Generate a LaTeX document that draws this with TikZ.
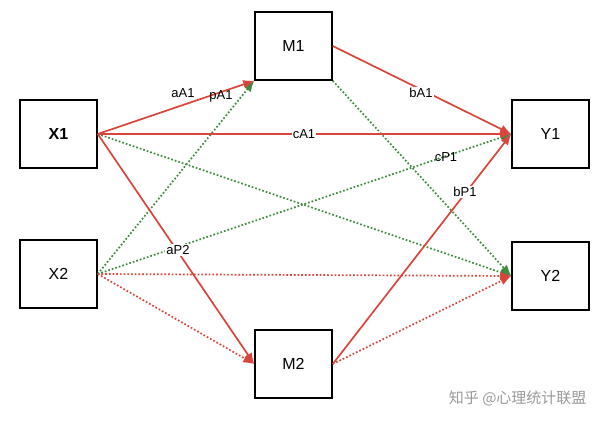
\documentclass[tikz,border=0pt]{standalone}
\usepackage{fontspec}
\setmainfont{Liberation Sans}
\newfontfamily\cjk{Noto Sans CJK SC}
\usetikzlibrary{arrows.meta}
\definecolor{rd}{HTML}{D9453A}
\definecolor{gr}{HTML}{3E8A3E}
\begin{document}
\begin{tikzpicture}[x=1pt,y=-1pt,
 box/.style={draw,line width=1.5pt,minimum width=77pt,minimum height=68pt,inner sep=0pt,font=\fontsize{16}{18}\selectfont},
 rs/.style={draw=rd,line width=1.7pt,-{Latex[length=11pt,width=9pt]}},
 rdot/.style={draw=rd,line width=1.7pt,dotted,-{Latex[length=11pt,width=9pt]}},
 gdot/.style={draw=gr,line width=1.7pt,dotted,-{Latex[length=11pt,width=9pt]}},
 lab/.style={fill=white,inner sep=1pt,font=\fontsize{13}{15}\selectfont}]
\useasboundingbox (0,0) rectangle (600,422);
\node[box,font=\fontsize{16}{18}\selectfont\bfseries] (X1) at (58.5,134) {X1};
\node[box] (X2) at (58.5,274) {X2};
\node[box] (M1) at (293.5,46) {M1};
\node[box] (M2) at (293.5,364) {M2};
\node[box] (Y1) at (550.5,134) {Y1};
\node[box] (Y2) at (550.5,276) {Y2};
\draw[gdot] (X2.east) -- (M1.south west);
\draw[gdot] (X2.east) -- (Y1.west);
\draw[gdot] (X1.east) -- (Y2.west);
\draw[gdot] (M1.south east) -- (Y2.west);
\draw[rdot] (X2.east) -- (Y2.west);
\draw[rdot] (X2.east) -- (M2.west);
\draw[rdot] (M2.east) -- (Y2.west);
\draw[rs] (X1.east) -- (M1.south west);
\draw[rs] (X1.east) -- (Y1.west);
\draw[rs] (X1.east) -- (M2.west);
\draw[rs] (M1.east) -- (Y1.west);
\draw[rs] (M2.east) -- (Y1.west);
\node[lab] (l1) at (183,93) {aA1};
\node[lab,fill=none] (l2) at (221,96) {pA1};
\node[lab] (l3) at (421,93) {bA1};
\node[lab] (l4) at (304,134) {cA1};
\node[lab,fill=none] (l5) at (446,157) {cP1};
\node[lab] (l6) at (178,250) {aP2};
\node[lab] (l7) at (465,192) {bP1};
\node[text=gray!80,font=\cjk\fontsize{15}{17}\selectfont,anchor=east] (wm) at (590,398) {知乎 @心理统计联盟};
\end{tikzpicture}
\end{document}
